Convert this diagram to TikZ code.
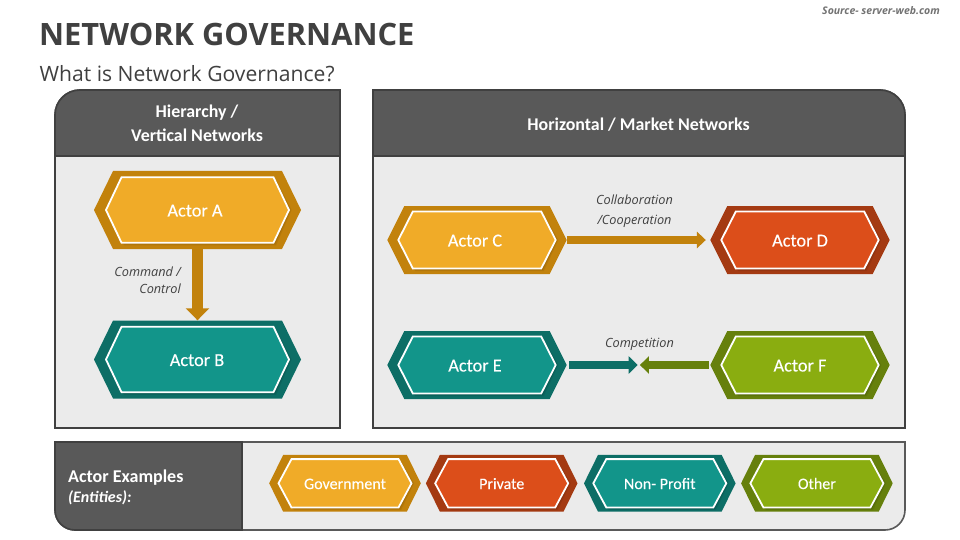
\documentclass[tikz,border=0pt]{standalone}
\usepackage{fontspec}
\setmainfont{Carlito}
\newfontfamily\opensans{Open Sans}
\newfontfamily\actorfont[FakeBold=0.2]{Carlito}
\usetikzlibrary{arrows.meta,calc}
\definecolor{hdr}{HTML}{595959}
\definecolor{edgeg}{HTML}{404040}
\definecolor{panel}{HTML}{EBEBEB}
\definecolor{amberF}{HTML}{F0AB28}\definecolor{amberD}{HTML}{C2820C}\definecolor{amberS}{HTML}{8E5E06}
\definecolor{redF}{HTML}{DC4E1A}\definecolor{redD}{HTML}{A43A12}\definecolor{redS}{HTML}{752A0C}
\definecolor{tealF}{HTML}{12958A}\definecolor{tealD}{HTML}{0D6E66}\definecolor{tealS}{HTML}{084A45}
\definecolor{limeF}{HTML}{8AAD10}\definecolor{limeD}{HTML}{66800C}\definecolor{limeS}{HTML}{465806}
\tikzset{
  x=1pt,y=-1pt,
  panelbox/.style={fill=panel,draw=edgeg,line width=1.6pt},
  hdrbox/.style={fill=hdr,draw=edgeg,line width=1.6pt},
  hdrtext/.style={text=white,font=\fontsize{17.9}{24}\selectfont\bfseries,align=center,inner sep=0pt},
  actortext/.style={text=white,inner sep=0pt,text height=#1*0.644pt+1.2pt,text depth=0pt,font=\actorfont\fontsize{#1}{#1}\selectfont},
  note/.style={text=black!75,font=\opensans\itshape\fontsize{12.7}{20}\selectfont,inner sep=0pt,align=#1},
}
\newcommand{\hexa}[9]{%
  \def\hxn{#1}\def\hxx{#2}\def\hxy{#3}\def\hxw{#4}\def\hxh{#5}\def\hxt{#6}\def\hxiw{#7}\def\hxih{#8}\def\hxit{#9}\hexb}
\newcommand{\hexpath}[3]{(\hxx-#1,\hxy) -- (\hxx-#1+#3,\hxy-#2) -- (\hxx+#1-#3,\hxy-#2) -- (\hxx+#1,\hxy) -- (\hxx+#1-#3,\hxy+#2) -- (\hxx-#1+#3,\hxy+#2) -- cycle}
\newcommand{\hexb}[3]{%
  \fill[#1D] \hexpath{\hxw}{\hxh}{\hxt};
  \fill[#1S,opacity=.25] \hexpath{\hxiw+2.6}{\hxih+2.6}{\hxit};
  \fill[#1S,opacity=.4] \hexpath{\hxiw+1.5}{\hxih+1.5}{\hxit};
  \fill[#1F,draw=white,line width=1.8pt,line join=miter] \hexpath{\hxiw}{\hxih}{\hxit};
  \node[actortext=#3,minimum width=2*\hxw pt,minimum height=2*\hxh pt] (\hxn) at (\hxx,\hxy) {#2};}
\begin{document}
\begin{tikzpicture}
\useasboundingbox (0,0) rectangle (960,540);
\fill[white] (0,0) rectangle (960,540);
% titles
\node[anchor=west,inner sep=0pt,text=edgeg,font=\opensans\bfseries\fontsize{30.8}{36}\selectfont] (title) at (39,34.5) {NETWORK GOVERNANCE};
\node[anchor=west,inner sep=0pt,text=edgeg,font=\opensans\fontsize{21.1}{26}\selectfont] (sub) at (39.5,73.5) {What is Network Governance?};
\node[anchor=east,inner sep=0pt,text=black!55,font=\opensans\bfseries\itshape\fontsize{10.5}{12}\selectfont] (src) at (940,11) {Source- server-web.com};
% left panel
\draw[panelbox] (55,115) arc[start angle=180,end angle=270,radius=25] -- (340,90) -- (340,428) -- (55,428) -- cycle;
\draw[hdrbox] (55,115) arc[start angle=180,end angle=270,radius=25] -- (340,90) -- (340,156) -- (55,156) -- cycle;
\node[hdrtext] (h1) at (197,123.5) {Hierarchy /\\Vertical Networks};
% right panel
\draw[panelbox] (373,90) -- (880,90) arc[start angle=270,end angle=360,radius=25] -- (905,428) -- (373,428) -- cycle;
\draw[hdrbox] (373,90) -- (880,90) arc[start angle=270,end angle=360,radius=25] -- (905,156) -- (373,156) -- cycle;
\node[hdrtext] (h2) at (638.5,124.5) {Horizontal / Market Networks};
% bottom panel
\draw[panelbox,draw=hdr] (55,442) -- (905,442) -- (905,510) arc[start angle=0,end angle=90,radius=20] -- (75,530) arc[start angle=90,end angle=180,radius=20] -- cycle;
\draw[hdrbox] (55,442) -- (242,442) -- (242,530) -- (75,530) arc[start angle=90,end angle=180,radius=20] -- cycle;
\node[anchor=west,inner sep=0pt,text=white,font=\fontsize{18}{20}\selectfont\bfseries] (ae) at (68,477.5) {Actor Examples};
\node[anchor=west,inner sep=0pt,text=white,font=\fontsize{16}{18}\selectfont\bfseries\itshape] (ent) at (68,498) {(Entities):};
% actors
\hexa{A}{197.5}{210}{103.5}{39}{19}{91.5}{32.7}{15.5}{amber}{Actor A\hspace*{5pt}}{18.3}
\hexa{B}{197.5}{359.5}{103.5}{39}{19}{91.5}{32.7}{15.5}{teal}{Actor B\hspace*{1pt}}{18.3}
\hexa{C}{477}{240}{89.7}{34}{17}{78.7}{28.5}{14.5}{amber}{Actor C\hspace*{4pt}}{18.3}
\hexa{D}{800}{240}{89.7}{34}{17}{78.7}{28.5}{14.5}{red}{Actor D}{18.3}
\hexa{E}{477}{365}{89.7}{34}{17}{78.7}{28.5}{14.5}{teal}{Actor E\hspace*{4pt}}{18.3}
\hexa{F}{800}{365}{89.7}{34}{17}{78.7}{28.5}{14.5}{lime}{Actor F}{18.3}
\hexa{G1}{345}{483.3}{75.8}{28.4}{14}{66.5}{24.2}{13}{amber}{Government}{16}
\hexa{G2}{501.7}{483.3}{75.8}{28.4}{14}{66.5}{24.2}{13}{red}{Private}{16}
\hexa{G3}{659.8}{483.3}{75.8}{28.4}{14}{66.5}{24.2}{13}{teal}{Non- Profit}{16}
\hexa{G4}{816.9}{483.3}{75.8}{28.4}{14}{66.5}{24.2}{13}{lime}{Other}{16}
% connectors
\draw[amberD,line width=11.7pt,-{Triangle[length=12pt,width=23pt]}] (A.south) -- (B.north);
\draw[amberD,line width=8.7pt,shorten >=4.3pt,-{Triangle[length=9pt,width=16.4pt]}] (C.east) -- (D.west);
\coordinate (mid) at (638.8,365);
\draw[tealD,line width=8.7pt,-{Triangle[length=9pt,width=17pt]}] ([xshift=2.3pt]E.east) -- ([xshift=-1.1pt]mid);
\draw[limeD,line width=8.7pt,shorten <=1.3pt,-{Triangle[length=9pt,width=17pt]}] (F.west) -- ([xshift=1.1pt]mid);
% notes
\node[note=right,anchor=east,font=\opensans\itshape\fontsize{12.7}{17}\selectfont] (n1) at (181,280) {Command /\\Control};
\node[note=center] (n2) at (634.5,210.7) {Collaboration\\/Cooperation};
\node[note=center] (n3) at (639.5,344.5) {Competition};
\end{tikzpicture}
\end{document}
